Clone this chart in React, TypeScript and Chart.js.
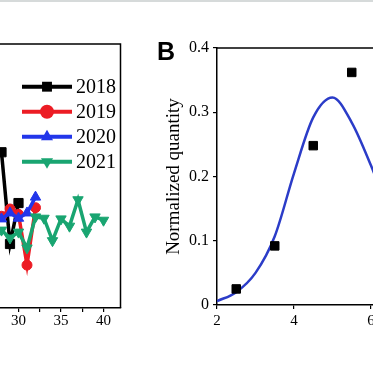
import React, { useEffect, useRef } from 'react';
import { Chart, registerables } from 'chart.js';

Chart.register(...registerables);

// ---------- Panel A (partially visible) ----------
const yearLabels = ['2018', '2019', '2020', '2021'];
const yearColors = ['#000000', '#ec1c24', '#2236ea', '#19a571'];
const yearMarkers = ['rect', 'circle', 'triangle', 'triangleDown'];

const x2018 = [27, 28, 29, 30];
const y2018 = [0.24, 0.236, 0.097, 0.159];
const x2019 = [27, 28, 29, 30, 31, 32];
const y2019 = [0.136, 0.139, 0.15, 0.142, 0.065, 0.152];
const x2020 = [27, 28, 29, 30, 31, 32];
const y2020 = [0.136, 0.135, 0.144, 0.136, 0.144, 0.168];
const x2021 = [27, 28, 29, 30, 31, 32, 33, 34, 35, 36, 37, 38, 39, 40];
const y2021 = [0.115, 0.118, 0.106, 0.115, 0.091, 0.138, 0.136, 0.102, 0.135, 0.124, 0.164, 0.115, 0.138, 0.133];

// ---------- Panel B ----------
const panelBLetter = 'B';
const yTitleB = 'Normalized quantity';
const measuredX = [2.5, 3.5, 4.5, 5.5];
const measuredY = [0.025, 0.092, 0.248, 0.362];
const fitX = [2, 2.5, 3, 3.5, 4, 4.5, 5, 5.5, 6, 6.5, 7, 7.5, 8];
const fitY = [0.006, 0.02, 0.05, 0.107, 0.205, 0.292, 0.323, 0.284, 0.217, 0.14, 0.08, 0.04, 0.018];

const pts = (xs: number[], ys: number[]) => xs.map((x, i) => ({ x, y: ys[i] }));

const SERIF = "'Liberation Serif', 'DejaVu Serif', serif";

function drawMarker(ctx: CanvasRenderingContext2D, kind: string, x: number, y: number, r: number) {
  ctx.beginPath();
  if (kind === 'rect') {
    const s = r * Math.SQRT1_2;
    ctx.rect(x - s, y - s, 2 * s, 2 * s);
  } else if (kind === 'circle') {
    ctx.arc(x, y, r, 0, Math.PI * 2);
  } else if (kind === 'triangle') {
    ctx.moveTo(x, y - r);
    ctx.lineTo(x + r * 0.866, y + r * 0.5);
    ctx.lineTo(x - r * 0.866, y + r * 0.5);
    ctx.closePath();
  } else {
    ctx.moveTo(x, y + r);
    ctx.lineTo(x + r * 0.866, y - r * 0.5);
    ctx.lineTo(x - r * 0.866, y - r * 0.5);
    ctx.closePath();
  }
  ctx.fill();
}

const A_LEFT = -33;
const A_WIDTH = 156;
const B_LEFT = 150;

const frameA = {
  id: 'frameA',
  beforeDatasetsDraw(chart: any) {
    const { ctx, chartArea } = chart;
    const { left, right, top, bottom } = chartArea;
    ctx.save();
    ctx.strokeStyle = '#000';
    ctx.lineWidth = 1.5;
    ctx.beginPath();
    ctx.moveTo(left, top);
    ctx.lineTo(right, top);
    ctx.lineTo(right, bottom);
    ctx.stroke();
    ctx.restore();
  },
  afterDatasetsDraw(chart: any) {
    const { ctx } = chart;
    ctx.save();
    yearLabels.forEach((lab, i) => {
      const y = 86.7 + i * 25;
      const x0 = 22 - A_LEFT;
      const x1 = 72 - A_LEFT;
      ctx.strokeStyle = yearColors[i];
      ctx.fillStyle = yearColors[i];
      ctx.lineWidth = 4;
      ctx.beginPath();
      ctx.moveTo(x0, y);
      ctx.lineTo(x1, y);
      ctx.stroke();
      drawMarker(ctx, yearMarkers[i], (x0 + x1) / 2, y, 7);
      ctx.fillStyle = '#000';
      ctx.font = `20px ${SERIF}`;
      ctx.textBaseline = 'alphabetic';
      ctx.textAlign = 'left';
      ctx.fillText(lab, 76 - A_LEFT, y + 6.6);
    });
    ctx.restore();
  },
};

const frameB = {
  id: 'frameB',
  afterDraw(chart: any) {
    const { ctx, chartArea } = chart;
    const { left, right, top } = chartArea;
    ctx.save();
    ctx.strokeStyle = '#000';
    ctx.lineWidth = 1.5;
    ctx.beginPath();
    ctx.moveTo(left, top);
    ctx.lineTo(right, top);
    ctx.stroke();
    ctx.fillStyle = '#000';
    ctx.font = "bold 25px 'Liberation Sans', Arial, sans-serif";
    ctx.textBaseline = 'alphabetic';
    ctx.textAlign = 'left';
    ctx.fillText(panelBLetter, 157 - B_LEFT, 60);
    ctx.restore();
  },
};

const axisGrid = { display: true, drawOnChartArea: false, drawTicks: true, tickLength: 4, color: '#000', lineWidth: 1.2 };
const axisBorder = { display: true, color: '#000', width: 1.5 };

export default function App() {
  const refA = useRef<HTMLCanvasElement>(null);
  const refB = useRef<HTMLCanvasElement>(null);

  useEffect(() => {
    const series = [
      [x2018, y2018],
      [x2019, y2019],
      [x2020, y2020],
      [x2021, y2021],
    ];
    const chartA = new Chart(refA.current as HTMLCanvasElement, {
      type: 'line',
      data: {
        datasets: series.map(([xs, ys], i) => ({
          label: yearLabels[i],
          data: pts(xs, ys),
          borderColor: yearColors[i],
          backgroundColor: yearColors[i],
          borderWidth: 3.5,
          pointStyle: yearMarkers[i] === 'triangleDown' ? 'triangle' : yearMarkers[i],
          pointRotation: yearMarkers[i] === 'triangleDown' ? 180 : 0,
          pointRadius: yearMarkers[i] === 'circle' ? 5 : yearMarkers[i] === 'rect' ? 6.5 : 6,
          pointBorderWidth: 1,
          tension: 0,
          order: 4 - i,
        })) as any,
      },
      options: {
        animation: false,
        responsive: false,
        devicePixelRatio: 1,
        layout: { autoPadding: false, padding: { left: 0.5, right: 2.5, top: 44, bottom: 0 } },
        plugins: { legend: { display: false }, tooltip: { enabled: false } },
        scales: {
          x: {
            type: 'linear',
            min: 24,
            max: 42,
            ticks: {
              stepSize: 2.5,
              includeBounds: false,
              autoSkip: false,
              maxRotation: 0,
              padding: 0,
              color: '#000',
              font: { family: SERIF, size: 15 },
              callback: (v: any) => (Number(v) % 5 === 0 ? String(v) : ''),
            },
            grid: axisGrid,
            border: axisBorder,
            afterFit: (s: any) => {
              s.height = 65;
            },
          },
          y: { display: false, min: 0, max: 0.4 },
        },
      } as any,
      plugins: [frameA],
    });

    const chartB = new Chart(refB.current as HTMLCanvasElement, {
      type: 'line',
      data: {
        datasets: [
          {
            type: 'line',
            label: 'fit',
            data: pts(fitX, fitY),
            borderColor: '#2b3cc8',
            borderWidth: 2.5,
            pointRadius: 0,
            cubicInterpolationMode: 'monotone',
            order: 2,
          },
          {
            type: 'scatter',
            label: 'measured',
            data: pts(measuredX, measuredY),
            backgroundColor: '#000',
            borderColor: '#000',
            pointStyle: 'rect',
            pointRadius: 6,
            order: 1,
          },
        ] as any,
      },
      options: {
        animation: false,
        responsive: false,
        devicePixelRatio: 1,
        layout: { autoPadding: false, padding: { left: 9, right: 10, top: 48, bottom: 0 } },
        plugins: { legend: { display: false }, tooltip: { enabled: false } },
        scales: {
          x: {
            type: 'linear',
            min: 2,
            max: 8,
            ticks: {
              stepSize: 2,
              autoSkip: false,
              maxRotation: 0,
              padding: 3,
              color: '#000',
              font: { family: SERIF, size: 15 },
            },
            grid: axisGrid,
            border: axisBorder,
            afterFit: (s: any) => {
              s.height = 68;
            },
          },
          y: {
            type: 'linear',
            min: 0,
            max: 0.4,
            ticks: {
              stepSize: 0.1,
              padding: 4,
              color: '#000',
              font: { family: SERIF, size: 16 },
            },
            title: {
              display: true,
              text: yTitleB,
              color: '#000',
              font: { family: SERIF, size: 19 },
              padding: { top: 4, bottom: 4 },
            },
            grid: axisGrid,
            border: axisBorder,
            afterFit: (s: any) => {
              s.width = 58;
            },
          },
        },
      } as any,
      plugins: [frameB],
    });

    return () => {
      chartA.destroy();
      chartB.destroy();
    };
  }, []);

  return (
    <div
      style={{
        position: 'fixed',
        left: 0,
        top: 0,
        width: 373,
        height: 373,
        overflow: 'hidden',
        background: '#fff',
      }}
    >
      <div style={{ position: 'absolute', left: 0, top: 0, width: 373, height: 2, background: '#d6dada' }} />
      <canvas
        ref={refA}
        width={A_WIDTH}
        height={373}
        style={{ position: 'absolute', left: A_LEFT, top: 0, width: A_WIDTH, height: 373, display: 'block' }}
      />
      <canvas
        ref={refB}
        width={308}
        height={373}
        style={{ position: 'absolute', left: B_LEFT, top: 0, width: 308, height: 373, display: 'block' }}
      />
    </div>
  );
}
